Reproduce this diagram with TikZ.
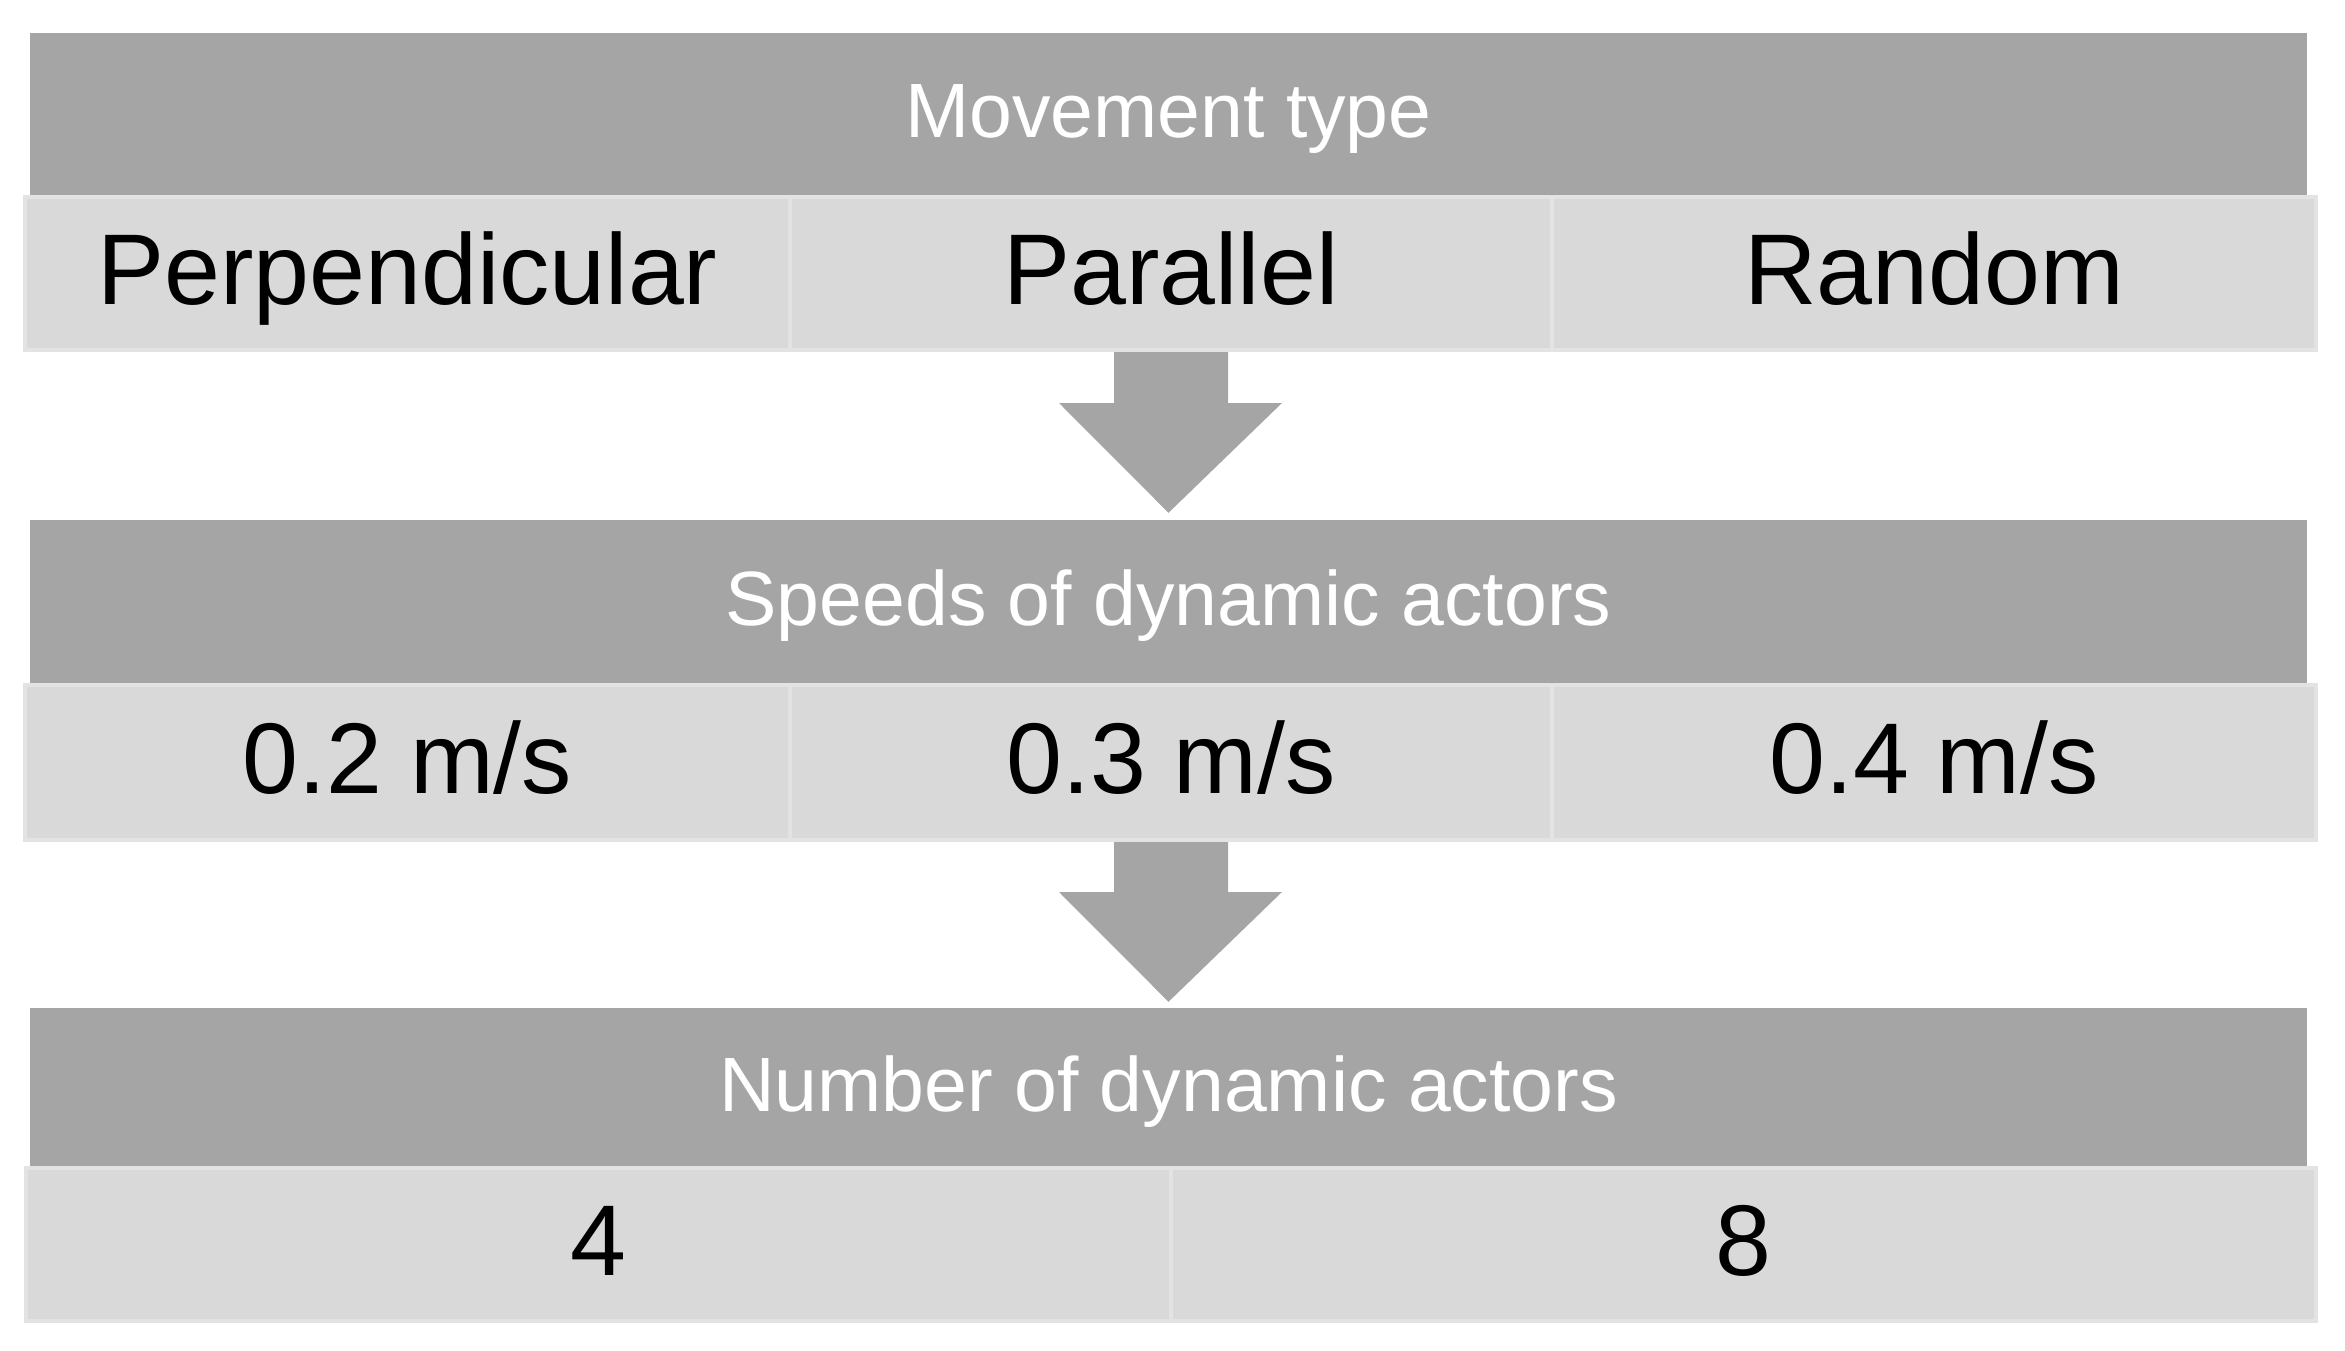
\documentclass[tikz,border=0pt]{standalone}
\usepackage{fontspec}
\setmainfont{Liberation Sans}
\usetikzlibrary{calc}
\definecolor{darkbar}{HTML}{A5A5A5}
\definecolor{lightcell}{HTML}{D9D9D9}
\definecolor{cellline}{HTML}{E3E3E3}
\tikzset{
  hdr/.style={fill=darkbar, draw=none, inner sep=0pt, text=white,
    font=\fontsize{77}{90}\selectfont, text height=60pt, text depth=14pt},
  cellbox/.style={fill=lightcell, draw=cellline, line width=4pt, inner sep=0pt, text=black,
    font=\fontsize{100.5}{118}\selectfont, text height=78pt, text depth=17pt},
  blockarrow/.style={fill=darkbar, draw=none}
}
\begin{document}
\begin{tikzpicture}[x=1pt,y=-1pt]
\useasboundingbox (0,0) rectangle (2345,1351);
% header 1
\node[hdr, minimum width=2277pt, minimum height=164pt] (h1) at (1168.5,115) {Movement type};
\node[cellbox, minimum width=765pt, minimum height=153pt] (c11) at (407.5,273.5) {Perpendicular};
\node[cellbox, minimum width=762pt, minimum height=153pt] (c12) at (1171,273.5) {Parallel};
\node[cellbox, minimum width=764pt, minimum height=153pt] (c13) at (1934,273.5) {Random};
% header 2
\node[hdr, minimum width=2277pt, minimum height=165pt] (h2) at (1168.5,602.5) {Speeds of dynamic actors};
\node[cellbox, minimum width=765pt, minimum height=155pt] (c21) at (407.5,762.5) {0.2 m/s};
\node[cellbox, minimum width=762pt, minimum height=155pt] (c22) at (1171,762.5) {0.3 m/s};
\node[cellbox, minimum width=764pt, minimum height=155pt] (c23) at (1934,762.5) {0.4 m/s};
% header 3
\node[hdr, minimum width=2277pt, minimum height=160pt] (h3) at (1168.5,1088) {Number of dynamic actors};
\node[cellbox, minimum width=1146pt, minimum height=153pt] (c31) at (598.5,1244.5) {4};
\node[cellbox, minimum width=1145pt, minimum height=153pt] (c32) at (1743.5,1244.5) {8};
% arrows
\fill[blockarrow] ($(c12.south)+(-57,0)$) -- ($(c12.south)+(57,0)$) -- ($(c12.south)+(57,51)$)
  -- ($(c12.south)+(111,51)$) -- ($(h2.north)+(0,-7)$) -- ($(c12.south)+(-112,51)$)
  -- ($(c12.south)+(-57,51)$) -- cycle;
\fill[blockarrow] ($(c22.south)+(-57,0)$) -- ($(c22.south)+(57,0)$) -- ($(c22.south)+(57,50)$)
  -- ($(c22.south)+(111,50)$) -- ($(h3.north)+(0,-6)$) -- ($(c22.south)+(-112,50)$)
  -- ($(c22.south)+(-57,50)$) -- cycle;
\end{tikzpicture}
\end{document}
